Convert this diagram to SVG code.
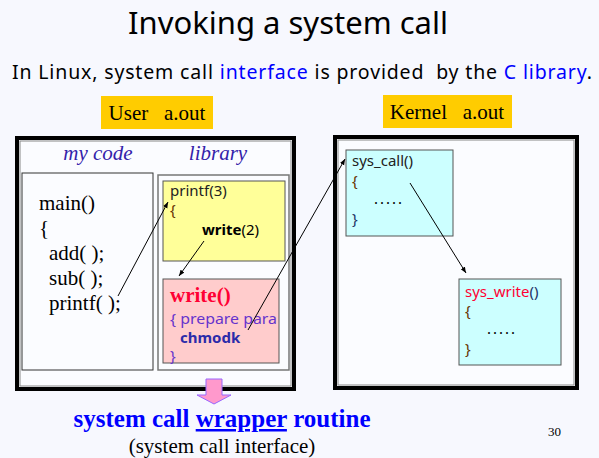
<svg xmlns="http://www.w3.org/2000/svg" width="599" height="458" viewBox="0 0 599 458">
<defs>
<marker id="ah" viewBox="0 0 10 10" refX="10" refY="5" markerWidth="6" markerHeight="6" orient="auto" markerUnits="userSpaceOnUse">
<path d="M0,1 L10,5 L0,9 z" fill="#000"/>
</marker>
</defs>
<style>
.sans{font-family:"Noto Sans","Liberation Sans",sans-serif}
.serif{font-family:"Liberation Serif","Times New Roman",serif}
.outer{fill:#fbfcff;stroke:#000;stroke-width:4}
.inner{fill:none;stroke:#888;stroke-width:1}
.code{font-family:"Liberation Serif",serif;font-size:21px;fill:#000}
.small{font-family:"Noto Sans","Liberation Sans",sans-serif;font-size:15px}
.brace{fill:#663300}
.dots{letter-spacing:2px}
.conn{stroke:#000;stroke-width:1;fill:none;marker-end:url(#ah)}
</style>
<rect x="0" y="0" width="599" height="458" fill="#f7f8fe"/>

<g id="title">
<text x="288" y="34" text-anchor="middle" class="sans" font-size="31" fill="#000">Invoking a system call</text>
<text x="12" y="79" class="sans" font-size="19.5" fill="#000" xml:space="preserve" textLength="580" lengthAdjust="spacing">In Linux, system call <tspan fill="#0000ff">interface</tspan> is provided  by the <tspan fill="#0000ff">C library</tspan>.</text>
</g>

<g id="user-label">
<rect x="101" y="96" width="112" height="33" fill="#ffcc00"/>
<text x="157" y="120" text-anchor="middle" class="serif" font-size="21" fill="#000" xml:space="preserve">User   a.out</text>
</g>

<g id="kernel-label">
<rect x="383" y="95" width="129" height="33" fill="#ffcc00"/>
<text x="447" y="119" text-anchor="middle" class="serif" font-size="21" fill="#000" xml:space="preserve">Kernel   a.out</text>
</g>

<g id="user-box">
<rect x="17" y="138" width="277" height="251" class="outer"/>
<rect x="20" y="141" width="271" height="245" class="inner"/>
<text x="98" y="160" text-anchor="middle" class="serif" font-size="21" font-style="italic" fill="#3322aa">my code</text>
<text x="218" y="160" text-anchor="middle" class="serif" font-size="21" font-style="italic" fill="#3322aa">library</text>
</g>

<g id="mycode">
<rect x="22" y="173" width="131" height="197" fill="none" stroke="#333" stroke-width="1"/>
<text x="39" y="210" class="code">main()</text>
<text x="39" y="235" class="code">{</text>
<text x="49" y="260" class="code">add( );</text>
<text x="49" y="285" class="code">sub( );</text>
<text x="49" y="310" class="code">printf( );</text>
</g>

<g id="library">
<rect x="158" y="175" width="131" height="195" fill="none" stroke="#777" stroke-width="1.5"/>
</g>

<g id="printf">
<rect x="163" y="181" width="122" height="80" fill="#ffff99" stroke="#555" stroke-width="1"/>
<text x="170" y="196" class="small" fill="#222">printf(3)</text>
<text x="170" y="215" class="small brace">{</text>
<text x="202" y="235" class="small" fill="#000"><tspan font-weight="bold">write</tspan>(2)</text>
</g>

<g id="write">
<rect x="163" y="279" width="116" height="84" fill="#ffcccc" stroke="#555" stroke-width="1"/>
<text x="170" y="302" class="serif" font-size="21" font-weight="bold" fill="#ff0033">write()</text>
<text x="170" y="324" class="small" fill="#6633cc" textLength="107" lengthAdjust="spacingAndGlyphs">{ prepare para</text>
<text x="180" y="343" class="small" font-weight="bold" fill="#2b2baa">chmodk</text>
<text x="170" y="361" class="small" fill="#6633cc">}</text>
</g>

<g id="kernel-box">
<rect x="335" y="137" width="242" height="251" class="outer"/>
<rect x="338" y="140" width="236" height="245" class="inner" stroke="#bbb"/>
</g>

<g id="sys_call">
<rect x="346" y="150" width="107" height="86" fill="#ccffff" stroke="#555" stroke-width="1"/>
<text x="352" y="166" class="small" fill="#222">sys_call()</text>
<text x="352" y="186" class="small brace">{</text>
<text x="374" y="204" class="small dots" fill="#000">.....</text>
<text x="352" y="224" class="small" fill="#223366">}</text>
</g>

<g id="sys_write">
<rect x="459" y="279" width="102" height="86" fill="#ccffff" stroke="#555" stroke-width="1"/>
<text x="465" y="297" class="small" font-size="15.5" fill="#ff0033">sys_write<tspan fill="#223366">()</tspan></text>
<text x="465" y="316" class="small brace">{</text>
<text x="487" y="334" class="small dots" fill="#000">.....</text>
<text x="465" y="354" class="small brace">}</text>
</g>

<g id="connectors">
<line x1="118" y1="296" x2="168" y2="202" class="conn"/>
<line x1="204" y1="241" x2="179" y2="276" class="conn"/>
<line x1="248" y1="330" x2="345" y2="159" class="conn"/>
<line x1="410" y1="183" x2="466" y2="273" class="conn"/>
</g>

<g id="down-arrow">
<path d="M206,379 L222,379 L222,395 L231,395 L214,404 L197,395 L206,395 Z" fill="#ff99cc" stroke="#9966ff" stroke-width="1"/>
</g>

<g id="caption">
<text x="222" y="427" text-anchor="middle" class="serif" font-size="25" font-weight="bold" fill="#0000ff">system call <tspan text-decoration="underline">wrapper</tspan> routine</text>
<text x="222" y="453" text-anchor="middle" class="serif" font-size="21" fill="#000">(system call interface)</text>
<text x="548" y="436" class="serif" font-size="13" fill="#000">30</text>
</g>
</svg>
